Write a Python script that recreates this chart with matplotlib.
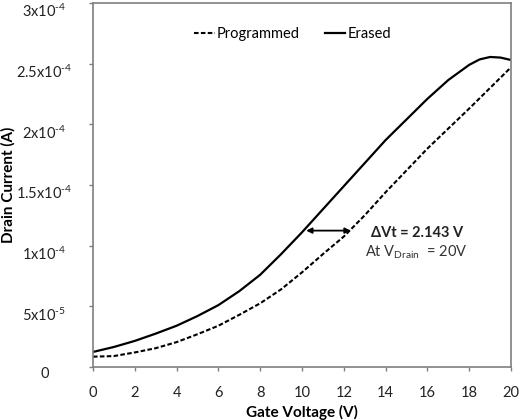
import numpy as np
import matplotlib
matplotlib.use("Agg")
import matplotlib.pyplot as plt

plt.rcParams['font.family'] = ['Lato', 'DejaVu Sans']
plt.rcParams['mathtext.fontset'] = 'custom'
plt.rcParams['mathtext.rm'] = 'Lato'
plt.rcParams['mathtext.default'] = 'regular'

# gate voltage (V) and drain current (x1e-4 A)
gate_v = [0, 1, 2, 3, 4, 5, 6, 7, 8, 9, 10, 11, 12, 13, 14, 15, 16, 17, 18, 18.5, 19, 19.5, 20]
erased = [0.124, 0.165, 0.215, 0.275, 0.34, 0.42, 0.51, 0.625, 0.76, 0.93, 1.11,
          1.30, 1.49, 1.68, 1.87, 2.04, 2.21, 2.365, 2.49, 2.535, 2.555, 2.55, 2.53]
programmed = [0.085, 0.09, 0.12, 0.155, 0.205, 0.27, 0.34, 0.43, 0.525, 0.64, 0.78,
              0.93, 1.075, 1.25, 1.44, 1.62, 1.80, 1.965, 2.13, 2.215, 2.30, 2.385, 2.47]

yticks = [0, 0.5, 1.0, 1.5, 2.0, 2.5, 3.0]
ytick_labels = ['0', r'5x10$^{\text{-5}}$', r'1x10$^{\text{-4}}$', r'1.5x10$^{\text{-4}}$',
                r'2x10$^{\text{-4}}$', r'2.5x10$^{\text{-4}}$', r'3x10$^{\text{-4}}$']
xticks = list(range(0, 21, 2))

# threshold shift arrow (V, x1e-4 A)
vt_erased = 10.2
vt_programmed = 12.33
i_ref = 1.124

erased = np.array(erased) * 1e-4
programmed = np.array(programmed) * 1e-4
yticks = np.array(yticks) * 1e-4

fig = plt.figure(figsize=(5.2, 4.2), dpi=100)
ax = fig.add_axes([0.1788, 0.1262, 0.8039, 0.8667])

ax.plot(gate_v, programmed, color='black', lw=1.5, dashes=(2.2, 1.1), label='Programmed')
ax.plot(gate_v, erased, color='black', lw=1.6, label='Erased')

ax.set_xlim(0, 20)
ax.set_ylim(0, 3e-4)
ax.set_xticks(xticks)
ax.set_xticklabels([str(v) for v in xticks])
ax.set_yticks(yticks)
ax.set_yticklabels(ytick_labels)

for s in ax.spines.values():
    s.set_color('#7f7f7f')
    s.set_linewidth(1.2)
ax.tick_params(axis='both', colors='#7f7f7f', length=3, width=1, labelcolor='#222222',
               labelsize=10.5)
ax.tick_params(axis='y', pad=32)
ax.tick_params(axis='x', pad=11)
for lbl in ax.get_yticklabels():
    lbl.set_horizontalalignment('center')
    lbl.set_verticalalignment('top')

ax.set_xlabel('Gate Voltage (V)', fontsize=11, fontweight='bold', labelpad=3)
ax.set_ylabel('Drain Current (A)', fontsize=11, fontweight='bold')
ax.yaxis.set_label_coords(-0.185, 0.5)

ax.legend(loc='center', bbox_to_anchor=(0.478, 0.915), ncol=2, frameon=False,
          fontsize=10.5, handlelength=1.4, handletextpad=0.15, columnspacing=1.7)

ax.annotate('', xy=(vt_programmed, i_ref * 1e-4), xytext=(vt_erased, i_ref * 1e-4),
            arrowprops=dict(arrowstyle='<|-|>', color='black', lw=1.3,
                            mutation_scale=8, shrinkA=0, shrinkB=0))
ax.text(15.5, 1.105e-4, r'ΔVt = 2.143 V', fontsize=10.5, fontweight='bold',
        ha='center', va='center', color='#222222')
ax.text(15.45, 0.945e-4, r'At V$_{Drain}$  = 20V', fontsize=10.5,
        ha='center', va='center', color='#333333')

fig.savefig('out.png', dpi=100)
